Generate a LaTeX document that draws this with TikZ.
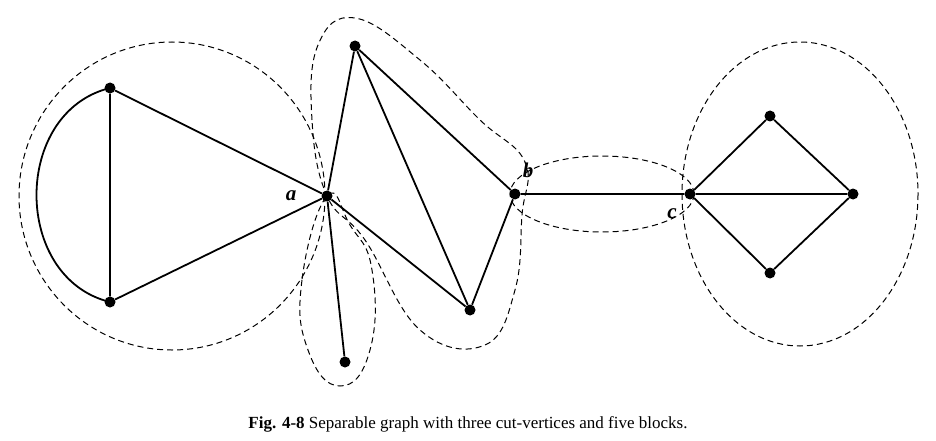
\documentclass[tikz,border=0pt]{standalone}
\usepackage{fontspec}
\setmainfont{Liberation Serif}
\begin{document}
\begin{tikzpicture}[x=1pt,y=-1pt,
  vtx/.style={circle,fill=black,inner sep=0pt,minimum size=11pt},
  edge/.style={line width=1.8pt},
  blk/.style={line width=1pt,dash pattern=on 6pt off 4pt},
  lab/.style={font=\itshape\bfseries\fontsize{21}{21}\selectfont}]
\useasboundingbox (0,0) rectangle (936,441);
\node[vtx] (L1) at (110,88) {};
\node[vtx] (L2) at (110,302) {};
\node[vtx] (a) at (327,196) {};
\node[vtx] (T1) at (355,46) {};
\node[vtx] (T2) at (470,310) {};
\node[vtx] (b) at (515,194) {};
\node[vtx] (P) at (345,362) {};
\node[vtx] (c) at (690,194) {};
\node[vtx] (D1) at (770,116) {};
\node[vtx] (D2) at (853,194) {};
\node[vtx] (D3) at (770,273) {};
\draw[edge] (L1)--(L2) (L1)--(a) (L2)--(a) (a)--(T1) (T1)--(b) (T1)--(T2) (a)--(T2) (T2)--(b) (a)--(P) (b)--(c)
  (c)--(D1) (D1)--(D2) (c)--(D2) (c)--(D3) (D3)--(D2);
\draw[edge] (L1.center) .. controls (12,112) and (12,278) .. (L2.center);
\node[lab] (la) at (291,196) {a};
\node[lab] (lb) at (528,170) {b};
\node[lab] (lc) at (672,214) {c};
\draw[blk] (172,196) ellipse[x radius=153,y radius=154];
\draw[blk] plot[smooth cycle,tension=0.7] coordinates {(327,196) (312,120) (318,45) (355,18) (420,60) (480,120) (525,162) (522,215) (515,290) (485,345) (420,330) (365,240)};
\draw[blk] plot[smooth cycle,tension=0.8] coordinates {(327,196) (302,280) (308,350) (340,386) (370,350) (372,270) (350,225)};
\draw[blk] (602,194) ellipse[x radius=92,y radius=38];
\draw[blk] (800,194) ellipse[x radius=118,y radius=152];
\node (cap) at (468,424) {\fontsize{17}{17}\selectfont\textbf{Fig. 4-8} Separable graph with three cut-vertices and five blocks.};
\end{tikzpicture}
\end{document}
